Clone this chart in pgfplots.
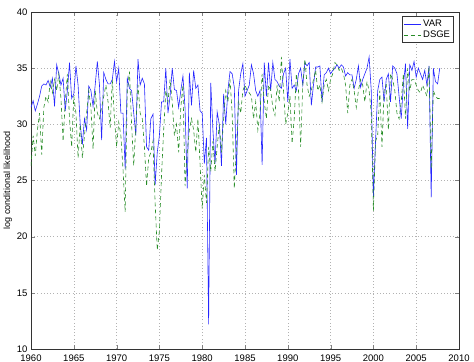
\documentclass[border=0pt]{standalone}
\usepackage{pgfplots}
\pgfplotsset{compat=1.18}
\usepackage{fontspec}
\setmainfont{Liberation Sans}
\definecolor{dsgegreen}{rgb}{0.15,0.55,0.15}
\begin{document}
\begin{tikzpicture}
\begin{axis}[name=ax,
  scale only axis, width=428pt, height=337pt,
  xmin=1960, xmax=2010, ymin=10, ymax=40,
  xtick={1960,1965,...,2010}, ytick={10,15,...,40},
  /pgf/number format/1000 sep={},
  /pgf/number format/assume math mode=true,
  tick label style={font=\fontsize{9.5}{11}\selectfont},
  xticklabel style={yshift=-2.5pt},
  tick align=inside, major tick length=4pt,
  grid=major, grid style={dash pattern=on 0.8pt off 2.4pt, gray!60, line width=0.6pt},
  axis line style={line width=0.6pt, black!80},
  ylabel={log conditional likelihood},
  ylabel style={font=\fontsize{9}{11}\selectfont, at={(ticklabel cs:0.5)}, yshift=-2pt},
  legend style={at={(rel axis cs:0.988,0.988)}, anchor=north east, font=\fontsize{9.5}{11}\selectfont, draw=black!80, line width=0.6pt, inner sep=1.5pt, row sep=-1pt},
  legend cell align=left,
]
\addplot[color={rgb,1:red,0.15;green,0.15;blue,1}, line width=0.6pt] coordinates {
(1960.00,31.5)(1960.25,32.1)(1960.50,31.2)(1960.75,31.8)(1961.00,32.5)(1961.25,33.4)(1961.50,33.6)(1961.75,33.5)
(1962.00,33.9)(1962.25,33.3)(1962.50,34.1)(1962.75,31.6)(1963.00,35.3)(1963.25,34.5)(1963.50,33.5)(1963.75,34.1)
(1964.00,31.2)(1964.25,33.0)(1964.50,35.5)(1964.75,32.3)(1965.00,32.7)(1965.25,35.2)(1965.50,33.5)(1965.75,30.0)
(1966.00,28.2)(1966.25,30.5)(1966.50,29.5)(1966.75,33.4)(1967.00,33.0)(1967.25,31.6)(1967.50,33.5)(1967.75,35.6)
(1968.00,33.5)(1968.25,28.6)(1968.50,34.6)(1968.75,34.0)(1969.00,33.6)(1969.25,33.6)(1969.50,34.0)(1969.75,35.6)
(1970.00,33.8)(1970.25,35.0)(1970.50,31.0)(1970.75,31.0)(1971.00,26.0)(1971.25,34.1)(1971.50,33.2)(1971.75,33.0)
(1972.00,31.0)(1972.25,29.0)(1972.50,35.8)(1972.75,33.5)(1973.00,34.1)(1973.25,33.6)(1973.50,28.0)(1973.75,27.7)
(1974.00,30.5)(1974.25,30.9)(1974.50,24.6)(1974.75,27.5)(1975.00,29.0)(1975.25,32.0)(1975.50,32.0)(1975.75,35.0)
(1976.00,31.0)(1976.25,32.5)(1976.50,35.0)(1976.75,33.1)(1977.00,33.0)(1977.25,31.5)(1977.50,33.0)(1977.75,34.3)
(1978.00,31.4)(1978.25,24.3)(1978.50,34.6)(1978.75,31.7)(1979.00,34.8)(1979.25,33.2)(1979.50,33.5)(1979.75,31.2)
(1980.00,31.0)(1980.25,26.5)(1980.50,28.8)(1980.75,12.2)(1981.00,33.7)(1981.25,29.5)(1981.50,26.5)(1981.75,31.1)
(1982.00,30.0)(1982.25,26.3)(1982.50,32.7)(1982.75,30.0)(1983.00,33.0)(1983.25,34.7)(1983.50,34.5)(1983.75,33.3)
(1984.00,25.5)(1984.25,33.0)(1984.50,34.5)(1984.75,35.4)(1985.00,32.5)(1985.25,33.0)(1985.50,33.5)(1985.75,35.3)
(1986.00,34.5)(1986.25,33.0)(1986.50,32.5)(1986.75,33.0)(1987.00,26.4)(1987.25,35.5)(1987.50,32.5)(1987.75,35.5)
(1988.00,33.0)(1988.25,35.5)(1988.50,34.0)(1988.75,33.8)(1989.00,33.4)(1989.25,33.2)(1989.50,34.5)(1989.75,35.0)
(1990.00,32.0)(1990.25,35.8)(1990.50,33.2)(1990.75,33.5)(1991.00,33.0)(1991.25,34.5)(1991.50,35.0)(1991.75,33.5)
(1992.00,35.5)(1992.25,35.2)(1992.50,35.5)(1992.75,31.7)(1993.00,33.5)(1993.25,35.1)(1993.50,35.1)(1993.75,35.2)
(1994.00,32.0)(1994.25,34.4)(1994.50,34.6)(1994.75,35.0)(1995.00,34.5)(1995.25,34.8)(1995.50,35.0)(1995.75,35.3)
(1996.00,35.0)(1996.25,35.3)(1996.50,35.1)(1996.75,34.3)(1997.00,34.6)(1997.25,34.4)(1997.50,34.4)(1997.75,33.2)
(1998.00,34.0)(1998.25,35.2)(1998.50,33.3)(1998.75,34.0)(1999.00,34.5)(1999.25,35.0)(1999.50,36.0)(1999.75,33.0)
(2000.00,23.5)(2000.25,28.5)(2000.50,33.0)(2000.75,34.0)(2001.00,34.2)(2001.25,32.0)(2001.50,34.0)(2001.75,34.5)
(2002.00,32.0)(2002.25,35.2)(2002.50,35.0)(2002.75,34.5)(2003.00,32.5)(2003.25,30.5)(2003.50,33.5)(2003.75,35.4)
(2004.00,29.6)(2004.25,35.3)(2004.50,34.8)(2004.75,35.6)(2005.00,34.2)(2005.25,35.0)(2005.50,34.5)(2005.75,34.0)
(2006.00,34.8)(2006.25,33.5)(2006.50,35.2)(2006.75,23.5)(2007.00,35.0)(2007.25,33.8)(2007.50,33.6)(2007.75,35.0)
};
\addlegendentry{VAR}
\addplot[color=dsgegreen, dash pattern=on 4pt off 3pt, line width=0.6pt] coordinates {
(1960.00,26.3)(1960.25,29.0)(1960.50,27.2)(1960.75,29.5)(1961.00,31.0)(1961.25,27.3)(1961.50,31.5)(1961.75,32.5)
(1962.00,32.0)(1962.25,33.8)(1962.50,32.8)(1962.75,34.0)(1963.00,33.0)(1963.25,34.5)(1963.50,32.3)(1963.75,28.5)
(1964.00,32.0)(1964.25,34.5)(1964.50,30.5)(1964.75,28.0)(1965.00,32.5)(1965.25,31.0)(1965.50,27.0)(1965.75,30.0)
(1966.00,27.0)(1966.25,29.0)(1966.50,31.0)(1966.75,33.0)(1967.00,31.5)(1967.25,27.8)(1967.50,33.0)(1967.75,31.0)
(1968.00,30.5)(1968.25,31.5)(1968.50,32.5)(1968.75,33.5)(1969.00,32.0)(1969.25,29.7)(1969.50,34.0)(1969.75,30.5)
(1970.00,28.0)(1970.25,30.2)(1970.50,29.0)(1970.75,26.0)(1971.00,22.2)(1971.25,33.0)(1971.50,34.7)(1971.75,30.0)
(1972.00,26.3)(1972.25,30.0)(1972.50,33.5)(1972.75,31.0)(1973.00,30.5)(1973.25,28.0)(1973.50,24.5)(1973.75,27.0)
(1974.00,27.5)(1974.25,28.5)(1974.50,23.0)(1974.75,18.8)(1975.00,20.5)(1975.25,25.5)(1975.50,29.5)(1975.75,33.0)
(1976.00,32.0)(1976.25,34.0)(1976.50,32.0)(1976.75,29.0)(1977.00,30.0)(1977.25,27.5)(1977.50,31.5)(1977.75,33.5)
(1978.00,24.5)(1978.25,27.5)(1978.50,29.5)(1978.75,30.5)(1979.00,29.5)(1979.25,27.5)(1979.50,30.5)(1979.75,26.5)
(1980.00,22.5)(1980.25,25.5)(1980.50,23.0)(1980.75,28.0)(1981.00,25.8)(1981.25,28.5)(1981.50,25.8)(1981.75,28.0)
(1982.00,30.0)(1982.25,27.5)(1982.50,30.5)(1982.75,33.0)(1983.00,32.0)(1983.25,34.0)(1983.50,31.0)(1983.75,24.3)
(1984.00,28.0)(1984.25,32.0)(1984.50,31.0)(1984.75,33.0)(1985.00,33.5)(1985.25,33.0)(1985.50,32.8)(1985.75,32.5)
(1986.00,30.5)(1986.25,32.0)(1986.50,29.5)(1986.75,31.0)(1987.00,34.5)(1987.25,32.0)(1987.50,30.5)(1987.75,33.5)
(1988.00,33.0)(1988.25,31.5)(1988.50,30.8)(1988.75,33.5)(1989.00,32.0)(1989.25,36.0)(1989.50,33.0)(1989.75,30.0)
(1990.00,31.0)(1990.25,32.5)(1990.50,28.3)(1990.75,30.5)(1991.00,34.5)(1991.25,33.0)(1991.50,28.0)(1991.75,33.5)
(1992.00,35.8)(1992.25,33.5)(1992.50,32.5)(1992.75,33.0)(1993.00,34.0)(1993.25,34.8)(1993.50,33.0)(1993.75,33.5)
(1994.00,32.0)(1994.25,33.5)(1994.50,34.0)(1994.75,33.0)(1995.00,34.0)(1995.25,34.5)(1995.50,35.5)(1995.75,35.3)
(1996.00,34.8)(1996.25,35.0)(1996.50,34.5)(1996.75,33.5)(1997.00,31.0)(1997.25,33.5)(1997.50,34.0)(1997.75,33.0)
(1998.00,31.5)(1998.25,33.0)(1998.50,34.0)(1998.75,33.5)(1999.00,32.0)(1999.25,33.8)(1999.50,33.0)(1999.75,31.0)
(2000.00,22.3)(2000.25,28.5)(2000.50,29.0)(2000.75,33.0)(2001.00,28.0)(2001.25,33.0)(2001.50,33.5)(2001.75,29.5)
(2002.00,34.5)(2002.25,34.0)(2002.50,33.0)(2002.75,31.0)(2003.00,30.5)(2003.25,32.0)(2003.50,34.5)(2003.75,30.5)
(2004.00,35.0)(2004.25,33.0)(2004.50,34.0)(2004.75,34.0)(2005.00,33.5)(2005.25,33.0)(2005.50,32.8)(2005.75,33.5)
(2006.00,33.0)(2006.25,32.5)(2006.50,35.2)(2006.75,26.0)(2007.00,33.0)(2007.25,32.5)(2007.50,32.3)(2007.75,32.3)
};
\addlegendentry{DSGE}
\end{axis}
\pgfresetboundingbox
\useasboundingbox ([shift={(-31pt,-12pt)}]ax.south west) rectangle ([shift={(15pt,12pt)}]ax.north east);
\end{tikzpicture}
\end{document}
